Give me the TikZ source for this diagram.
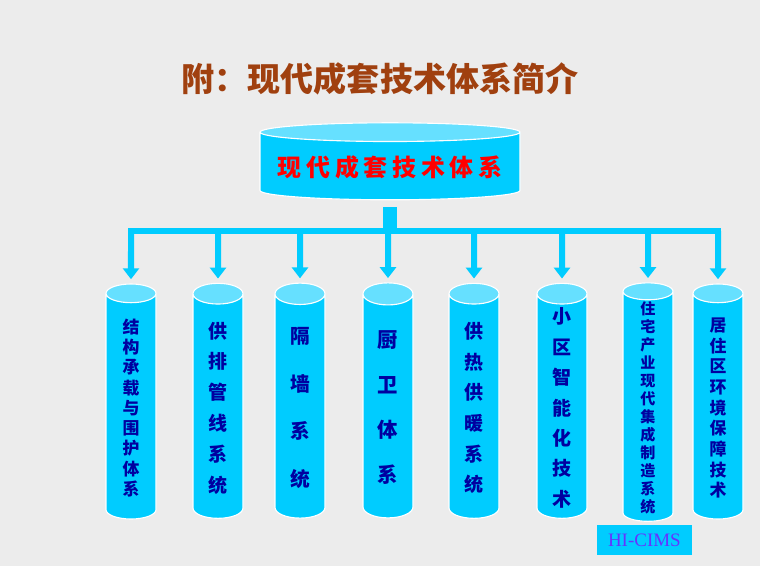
\documentclass[tikz,border=0pt]{standalone}
\usepackage{fontspec}
\usepackage{tikz}
\usetikzlibrary{shapes.geometric,arrows.meta,positioning}
\newfontfamily\cjk{Noto Sans CJK SC}
\newfontfamily\timesfont{Liberation Serif}
\definecolor{paper}{HTML}{ECECEC}
\definecolor{cylbody}{HTML}{00CCFF}
\definecolor{cyltop}{HTML}{66E0FF}
\definecolor{titlebrown}{HTML}{A0400F}
\definecolor{colblue}{HTML}{0000A0}
\definecolor{cimsviolet}{HTML}{6633FF}

\begin{document}
\begin{tikzpicture}[
    font=\cjk,
    tank/.style={cylinder, shape border rotate=90, draw=white, line width=0.8pt,
        cylinder uses custom fill, cylinder body fill=cylbody, cylinder end fill=cyltop},
    pillar/.style={tank, minimum width=1.25cm, minimum height=5.875cm, aspect=0.95,
        inner sep=1pt, align=center, text=colblue},
    vtext/.style 2 args={font=\cjk\bfseries\fontsize{#1}{#2}\selectfont},
    busline/.style={draw=cylbody, line width=4.27pt, line cap=rect},
    arrow/.style={-{Triangle[width=11.4pt,length=7.8pt]}, draw=cylbody,
        line width=4.27pt, shorten >=3pt}
]
    \fill[paper] (0, 0) rectangle (19, -14.15);
    \useasboundingbox (0, 0) rectangle (19, -14.15);

    \node[text=titlebrown, font=\cjk\bfseries\fontsize{23.5pt}{28pt}\selectfont]
        (page_title) at (9.5, -1.975) {附：现代成套技术体系简介};

    \node[tank, minimum width=6.5cm, minimum height=1.925cm, aspect=0.08, text=red,
        font=\cjk\bfseries\fontsize{17pt}{20pt}\selectfont\addfontfeature{LetterSpace=20}]
        (system) at (9.75, -4.1875) {现代成套技术体系};

    \node[pillar, vtext={12pt}{14.4pt}] (structure) at (3.275, -10.2)
        {结\\构\\承\\载\\与\\围\\护\\体\\系};
    \node[pillar, vtext={13.5pt}{21.9pt}] (pipes) at (5.45, -10.2)
        {供\\排\\管\\线\\系\\统};
    \node[pillar, vtext={14pt}{34pt}] (partition) at (7.5, -10.2)
        {隔\\墙\\系\\统};
    \node[pillar, vtext={14.5pt}{32pt}] (kitchen) at (9.7, -10.2)
        {厨\\卫\\体\\系};
    \node[pillar, vtext={13.5pt}{21.8pt}] (heating) at (11.85, -10.2)
        {供\\热\\供\\暖\\系\\统};
    \node[pillar, vtext={13.5pt}{21.6pt}] (smart) at (14.05, -10.2)
        {小\\区\\智\\能\\化\\技\\术};
    \node[pillar, vtext={10.7pt}{12.8pt}] (cims) at (16.2, -10.2)
        {住\\宅\\产\\业\\现\\代\\集\\成\\制\\造\\系\\统};
    \node[pillar, vtext={12pt}{14.7pt}] (environment) at (17.95, -10.2)
        {居\\住\\区\\环\\境\\保\\障\\技\\术};

    \node[fill=cylbody, minimum width=2.375cm, minimum height=0.75cm, text=cimsviolet,
        font=\timesfont\fontsize{13.5pt}{16pt}\selectfont]
        (cims_label) at (16.11, -13.5) {HI-CIMS};

    \coordinate (bus) at (9.75, -5.775);
    \draw[cylbody, line width=9.96pt] ([yshift=-0.175cm]system.south) -- (bus);
    \draw[busline] (structure |- bus) -- (environment |- bus);

    \draw[arrow] (structure |- bus) -- (structure.north);
    \draw[arrow] (pipes |- bus) -- (pipes.north);
    \draw[arrow] (partition |- bus) -- (partition.north);
    \draw[arrow] (kitchen |- bus) -- (kitchen.north);
    \draw[arrow] (heating |- bus) -- (heating.north);
    \draw[arrow] (smart |- bus) -- (smart.north);
    \draw[arrow] (cims |- bus) -- (cims.north);
    \draw[arrow] (environment |- bus) -- (environment.north);
\end{tikzpicture}
\end{document}
